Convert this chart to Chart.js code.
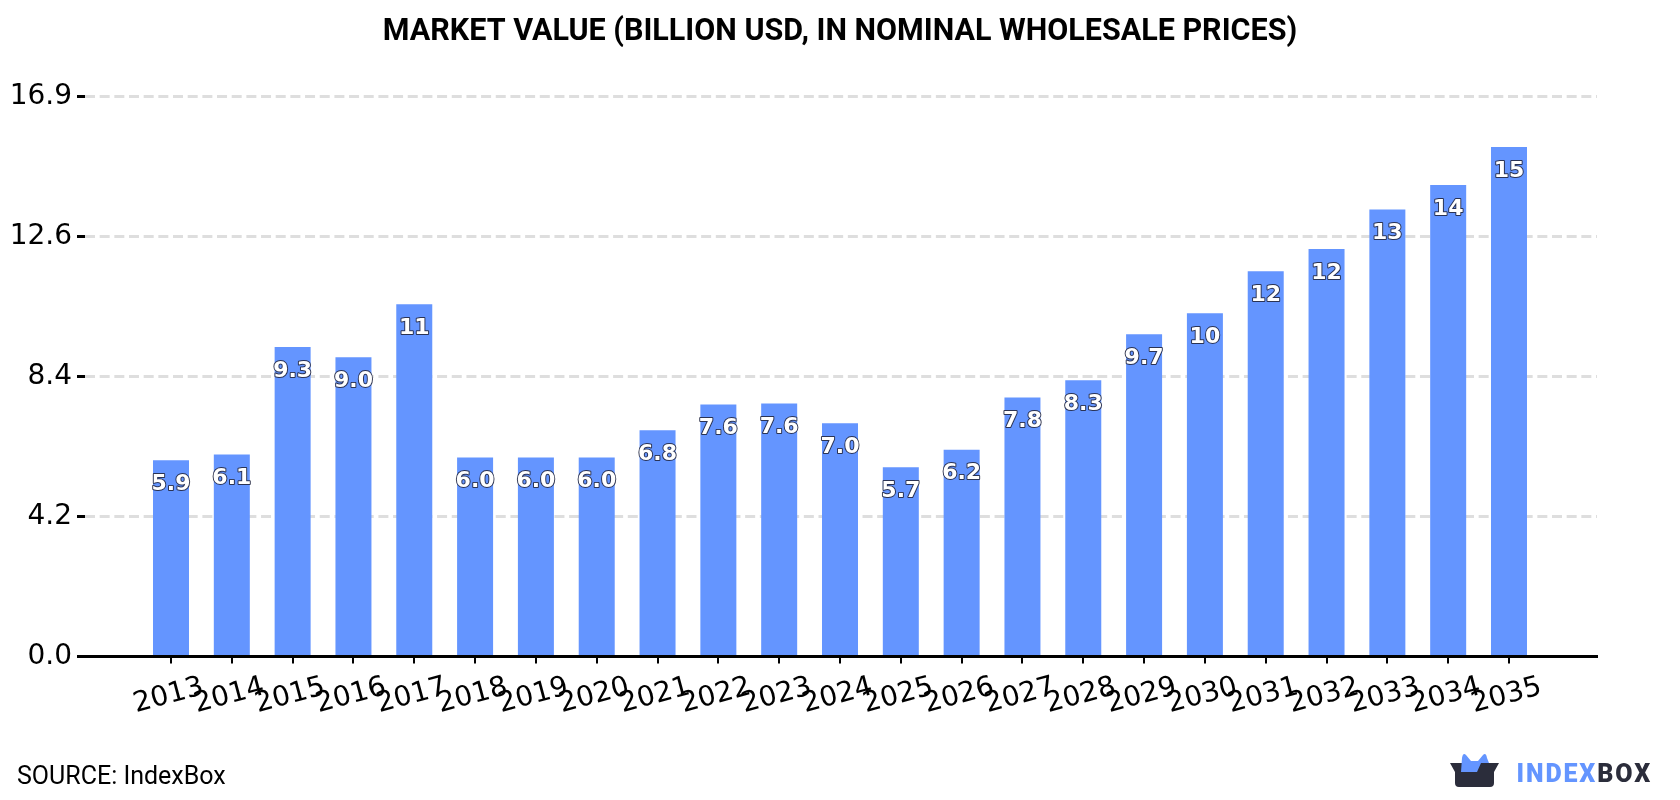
<!DOCTYPE html>
<html>
<head>
<meta charset="utf-8">
<title>Market value</title>
<script src="https://cdn.jsdelivr.net/npm/chart.js@4"></script>
<style>
  html, body { margin: 0; padding: 0; background: #fff; }
  #wrap { position: relative; width: 1680px; height: 800px; overflow: hidden; }
  #source { position: absolute; left: 17px; top: 761px; font: 25px/30px Roboto, sans-serif; color: #000; }
  #logo { position: absolute; left: 1450px; top: 752px; }
  #brand { position: absolute; left: 1516.5px; top: 758px; font: 900 25px/32px Roboto, sans-serif; letter-spacing: 1.9px; color: #6495ff; }
  #brand span { color: #2b2d3b; }
</style>
</head>
<body>
<div id="wrap">
  <canvas id="chart" width="1680" height="800"></canvas>
  <div id="source">SOURCE: IndexBox</div>
  <svg id="logo" width="50" height="38" viewBox="0 0 50 38">
    <path d="M0 11 H49 L44 20 V31 Q44 35 40 35 H9 Q5 35 5 31 V20 Z" fill="#2b2d3b"/>
    <path d="M11 20 L12 6 Q13 0 16 3 L21 9 H28 L33 3 Q36 0 37 6 L39 11 H31 L27 20 Z" fill="#6495ff"/>
  </svg>
  <div id="brand">INDEX<span>BOX</span></div>
</div>
<script>
// Market value per year, billion USD
const years = [2013, 2014, 2015, 2016, 2017, 2018, 2019, 2020, 2021, 2022, 2023, 2024,
               2025, 2026, 2027, 2028, 2029, 2030, 2031, 2032, 2033, 2034, 2035];
const marketValue = [5.92, 6.10, 9.34, 9.03, 10.63, 6.01, 6.01, 6.01, 6.83, 7.61, 7.64, 7.04,
                     5.71, 6.24, 7.82, 8.34, 9.73, 10.36, 11.63, 12.3, 13.49, 14.23, 15.38];
const yTickValues = [0, 4.225, 8.45, 12.675, 16.9];
const yTickLabels = ['0.0', '4.2', '8.4', '12.6', '16.9'];
const titleText = 'MARKET VALUE (BILLION USD, IN NOMINAL WHOLESALE PRICES)';

const barColor = '#6495ff';

// Two significant digits, white with a dark outline, just under the top of each bar
const barValueLabels = {
  id: 'barValueLabels',
  afterDatasetsDraw(chart) {
    const { ctx } = chart;
    const meta = chart.getDatasetMeta(0);
    ctx.save();
    ctx.font = 'bold 22px "DejaVu Sans"';
    ctx.textAlign = 'center';
    ctx.textBaseline = 'middle';
    ctx.lineJoin = 'round';
    meta.data.forEach((bar, i) => {
      const text = marketValue[i].toPrecision(2);
      ctx.lineWidth = 2;
      ctx.strokeStyle = 'rgba(35,40,65,0.9)';
      ctx.strokeText(text, bar.x, bar.y + 24);
      ctx.fillStyle = '#fff';
      ctx.fillText(text, bar.x, bar.y + 24);
    });
    ctx.restore();
  }
};

new Chart(document.getElementById('chart'), {
  type: 'bar',
  data: {
    labels: years,
    datasets: [{ data: marketValue, backgroundColor: barColor, barThickness: 36, inflateAmount: 0 }]
  },
  plugins: [barValueLabels],
  options: {
    responsive: false,
    animation: false,
    plugins: {
      legend: { display: false },
      tooltip: { enabled: false },
      title: {
        display: true,
        text: titleText,
        color: '#000',
        font: { family: 'Roboto', size: 30.5, weight: 'bold' },
        padding: { top: 14, bottom: 46 }
      }
    },
    scales: {
      x: {
        type: 'linear',
        offset: false,
        min: 2011.586,
        max: 2036.447,
        afterBuildTicks(scale) { scale.ticks = years.map(v => ({ value: v })); },
        afterFit(scale) { scale.height = 143.5; },
        border: { display: true, color: '#000', width: 3 },
        grid: { offset: false, drawOnChartArea: false, color: '#000', tickColor: '#000', tickLength: 7, lineWidth: 2 },
        ticks: {
          color: '#000',
          font: { family: 'DejaVu Sans', size: 28 },
          minRotation: 15,
          maxRotation: 15,
          autoSkip: false,
          labelOffset: 32,
          padding: 7,
          callback: v => String(v)
        }
      },
      y: {
        min: 0,
        max: 16.9,
        afterBuildTicks(scale) { scale.ticks = yTickValues.map(v => ({ value: v })); },
        afterFit(scale) { scale.width = 85; },
        border: { display: false, dash: [10, 4.67] },
        grid: { color: '#dedede', lineWidth: 3, tickColor: '#000', tickLength: 8, tickWidth: 3, tickBorderDash: [], tickBorderDashOffset: 0 },
        ticks: {
          color: '#000',
          font: { family: 'DejaVu Sans', size: 28 },
          padding: 5,
          callback: (v) => yTickLabels[yTickValues.indexOf(v)]
        }
      },
      // Empty right-hand gutter, so the title stays centred on the whole canvas
      gutter: {
        position: 'right',
        afterFit(scale) { scale.width = 83; },
        border: { display: false },
        grid: { display: false },
        ticks: { display: false }
      }
    }
  }
});
</script>
</body>
</html>
